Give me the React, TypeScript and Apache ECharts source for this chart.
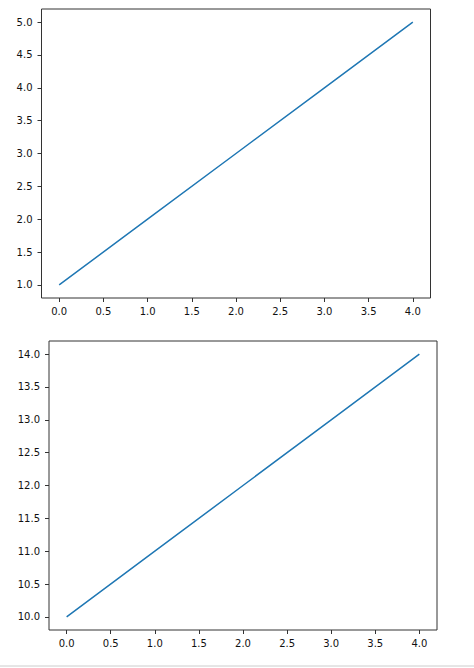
import React, { useEffect, useRef } from "react";
import * as echarts from "echarts";

const xValues = [0, 1, 2, 3, 4];
const topValues = [1, 2, 3, 4, 5];
const bottomValues = [10, 11, 12, 13, 14];
const xTicks = [0, 0.5, 1, 1.5, 2, 2.5, 3, 3.5, 4];
const topYTicks = [1, 1.5, 2, 2.5, 3, 3.5, 4, 4.5, 5];
const bottomYTicks = [10, 10.5, 11, 11.5, 12, 12.5, 13, 13.5, 14];

const FONT = "DejaVu Sans";
const AX = "#333";

function xAxisDef(gridIndex: number) {
  return {
    type: "value",
    gridIndex,
    position: "bottom",
    min: -0.2,
    max: 4.2,
    axisLine: { show: false, onZero: false },
    axisTick: { show: true, inside: false, length: 4, lineStyle: { color: AX, width: 1 }, customValues: xTicks },
    axisLabel: {
      show: true,
      margin: 8,
      color: "#111",
      fontFamily: FONT,
      fontSize: 10,
      customValues: xTicks,
      formatter: (v: number) => v.toFixed(1),
    },
    splitLine: { show: false },
  };
}

function yAxisDef(gridIndex: number, min: number, max: number, ticks: number[]) {
  return {
    type: "value",
    gridIndex,
    position: "left",
    min,
    max,
    axisLine: { show: false, onZero: false },
    axisTick: { show: true, inside: false, length: 4, lineStyle: { color: AX, width: 1 }, customValues: ticks },
    axisLabel: {
      show: true,
      margin: 9,
      color: "#111",
      fontFamily: FONT,
      fontSize: 10,
      customValues: ticks,
      formatter: (v: number) => v.toFixed(1),
    },
    splitLine: { show: false },
  };
}

export default function App() {
  const ref = useRef<HTMLDivElement>(null);
  useEffect(() => {
    document.body.style.margin = "0";
    const chart = echarts.init(ref.current!, null, { renderer: "svg" });
    chart.setOption({
      animation: false,
      backgroundColor: "#fff",
      grid: [
        { left: 41.5, top: 9, width: 389, height: 289, show: true, borderColor: AX, borderWidth: 1, backgroundColor: "transparent" },
        { left: 49, top: 341, width: 388, height: 289, show: true, borderColor: AX, borderWidth: 1, backgroundColor: "transparent" },
      ],
      xAxis: [xAxisDef(0), xAxisDef(1)],
      yAxis: [yAxisDef(0, 0.8, 5.2, topYTicks), yAxisDef(1, 9.8, 14.2, bottomYTicks)],
      series: [
        {
          type: "line",
          xAxisIndex: 0,
          yAxisIndex: 0,
          data: xValues.map((x, i) => [x, topValues[i]]),
          showSymbol: false,
          symbol: "none",
          lineStyle: { color: "#1f77b4", width: 1.5 },
        },
        {
          type: "line",
          xAxisIndex: 1,
          yAxisIndex: 1,
          data: xValues.map((x, i) => [x, bottomValues[i]]),
          showSymbol: false,
          symbol: "none",
          lineStyle: { color: "#1f77b4", width: 1.5 },
        },
      ],
      graphic: [
        {
          type: "line",
          shape: { x1: 0, y1: 666, x2: 474, y2: 666 },
          style: { stroke: "#ccc", lineWidth: 1 },
        },
      ],
    });
    return () => chart.dispose();
  }, []);
  return <div ref={ref} style={{ width: 474, height: 668 }} />;
}
